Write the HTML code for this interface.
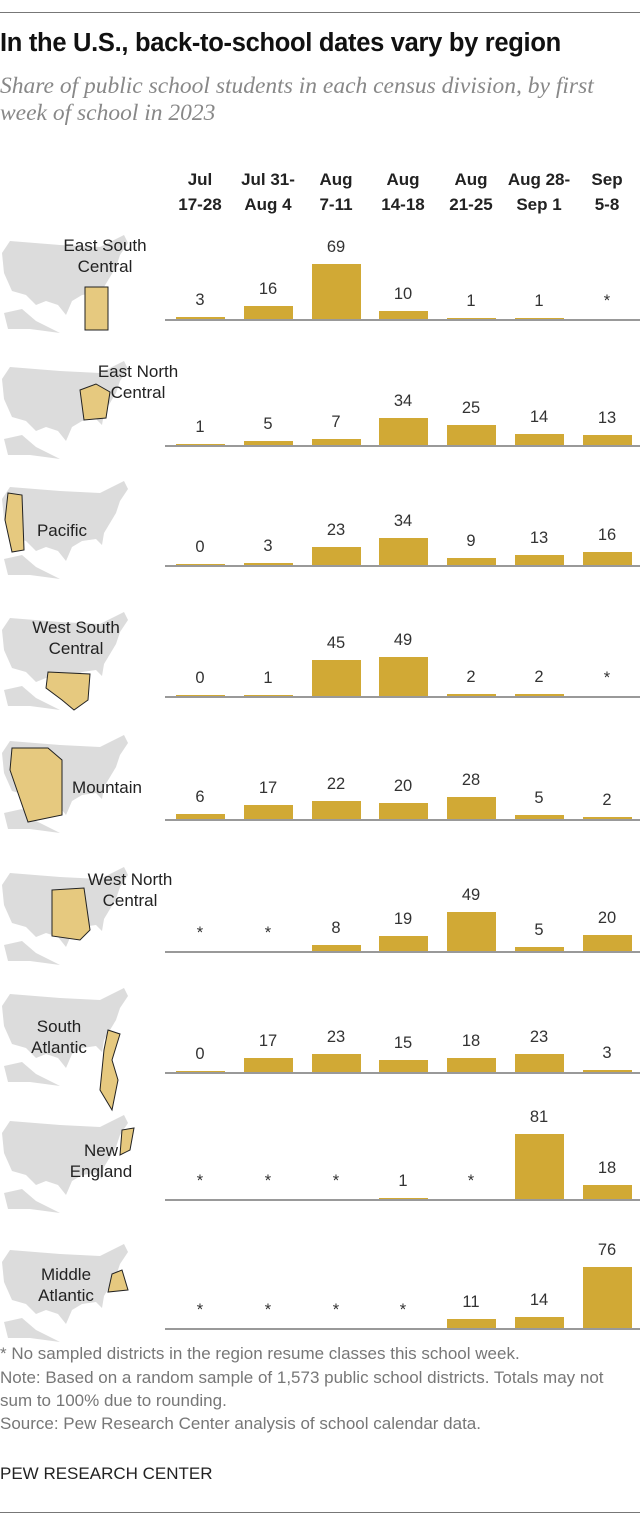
<!DOCTYPE html>
<html><head><meta charset="utf-8"><style>
body{margin:0;background:#fff;width:640px;height:1522px;position:relative;overflow:hidden;font-family:"Liberation Sans",sans-serif}
.a{position:absolute}
.t{font-family:"Liberation Sans Narrow","Liberation Sans",sans-serif}
.h{position:absolute;width:80px;text-align:center;font-weight:bold;font-size:17px;line-height:25px;color:#222;font-family:"Liberation Sans Narrow","Liberation Sans",sans-serif;top:167px}
.lab{position:absolute;text-align:center;font-size:17px;line-height:21px;color:#222;font-family:"Liberation Sans Narrow","Liberation Sans",sans-serif}
.v{position:absolute;width:60px;text-align:center;font-size:16.5px;color:#333}
.bar{position:absolute;width:49px;background:#d1a935}
.ax{position:absolute;left:165px;width:475px;height:2px;background:#999}
.f{position:absolute;left:0;font-size:17px;color:#777;line-height:23px;font-family:"Liberation Sans Narrow","Liberation Sans",sans-serif;white-space:nowrap}
</style></head><body>
<div class="a" style="left:0;top:12px;width:640px;height:1px;background:#777"></div>
<div class="a t" style="left:0;top:29px;font-size:25.5px;font-weight:bold;color:#111;letter-spacing:-0.3px;white-space:nowrap">In the U.S., back-to-school dates vary by region</div>
<div class="a" style="left:0;top:73px;font-family:'Liberation Serif',serif;font-style:italic;font-size:23.5px;line-height:27px;color:#888;white-space:nowrap">Share of public school students in each census division, by first<br>week of school in 2023</div>
<div class="h" style="left:160px">Jul<br>17-28</div>
<div class="h" style="left:228px">Jul 31-<br>Aug 4</div>
<div class="h" style="left:296px">Aug<br>7-11</div>
<div class="h" style="left:363px">Aug<br>14-18</div>
<div class="h" style="left:431px">Aug<br>21-25</div>
<div class="h" style="left:499px">Aug 28-<br>Sep 1</div>
<div class="h" style="left:567px">Sep<br>5-8</div>
<svg class="a" style="left:0;top:0" width="165" height="1522" id="maps"></svg>
<div id="c"></div>
<div class="f" style="top:1342px">* No sampled districts in the region resume classes this school week.</div>
<div class="f" style="top:1366px">Note: Based on a random sample of 1,573 public school districts. Totals may not<br>sum to 100% due to rounding.</div>
<div class="f" style="top:1412px">Source: Pew Research Center analysis of school calendar data.</div>
<div class="a t" style="left:0;top:1464px;font-size:17px;color:#222">PEW RESEARCH CENTER</div>
<div class="a" style="left:0;top:1512px;width:640px;height:1px;background:#777"></div>
<script>
var cx=[200,268,336,403,471,539,607];
var P=[
[319,[3,16,69,10,1,1,'*'],"East South<br>Central",105,235,[[85,287],[108,287],[108,330],[85,330]]],
[445,[1,5,7,34,25,14,13],"East North<br>Central",138,361,[[80,390],[96,384],[110,392],[106,418],[84,420]]],
[565,[0,3,23,34,9,13,16],"Pacific",62,520,[[8,493],[22,495],[24,550],[12,552],[5,520]]],
[696,[0,1,45,49,2,2,'*'],"West South<br>Central",76,617,[[48,672],[90,674],[88,700],[74,710],[62,700],[46,688]]],
[819,[6,17,22,20,28,5,2],"Mountain",107,777,[[12,748],[48,748],[62,760],[62,815],[28,822],[10,770]]],
[951,[null,null,8,19,49,5,20],"West North<br>Central",130,869,[[52,890],[84,888],[90,930],[80,940],[52,936]]],
[1072,[0,17,23,15,18,23,3],"South<br>Atlantic",59,1016,[[108,1030],[120,1034],[112,1060],[118,1080],[112,1110],[100,1090],[104,1050]]],
[1199,[null,null,null,1,null,81,18],"New<br>England",101,1140,[[122,1130],[134,1128],[130,1150],[120,1155]]],
[1328,[null,null,null,null,11,14,76],"Middle<br>Atlantic",66,1264,[[112,1274],[122,1270],[128,1290],[108,1292]]]
];
var h='',s='';
P.forEach(function(p){
 var b=p[0];
 h+='<div class="ax" style="top:'+(b)+'px"></div>';
 p[1].forEach(function(v,i){
  if(v===null||v==='*'){h+='<div class="v" style="left:'+(cx[i]-30)+'px;top:'+(b-27)+'px">*</div>';return;}
  var hh=Math.max(v*0.8,1);
  h+='<div class="bar" style="left:'+(cx[i]-24)+'px;top:'+(b-hh)+'px;height:'+hh+'px"></div>';
  h+='<div class="v" style="left:'+(cx[i]-30)+'px;top:'+(b-hh-26)+'px">'+v+'</div>';
 });
 var t=b-86;
 var us=[[2,20],[10,8],[60,12],[100,14],[112,8],[124,2],[128,10],[120,22],[116,34],[110,44],[104,54],[102,66],[96,60],[82,62],[72,68],[66,82],[58,72],[46,68],[36,72],[26,62],[12,58],[4,40]];
 s+='<polygon fill="#dcdcdc" points="'+us.map(function(q){return q[0]+','+(q[1]+t)}).join(' ')+'"/>';
 s+='<polygon fill="#dcdcdc" points="'+[[4,80],[22,76],[36,88],[60,100],[30,96],[8,96]].map(function(q){return q[0]+','+(q[1]+t)}).join(' ')+'"/>';
 s+='<polygon fill="#e6c97f" stroke="#222" stroke-width="1" points="'+p[5].map(function(q){return q.join(',')}).join(' ')+'"/>';
 h+='<div class="lab" style="left:'+(p[3]-60)+'px;width:120px;top:'+p[4]+'px">'+p[2]+'</div>';
});
document.getElementById('c').innerHTML=h;
document.getElementById('maps').innerHTML=s;
</script>
</body></html>
